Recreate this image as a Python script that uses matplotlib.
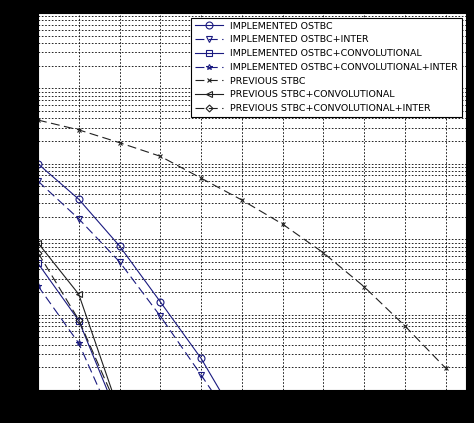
import numpy as np
import matplotlib
matplotlib.use("Agg")
import matplotlib.pyplot as plt

x = list(range(0, 11))
labels = ["IMPLEMENTED OSTBC", "IMPLEMENTED OSTBC+INTER", "IMPLEMENTED OSTBC+CONVOLUTIONAL",
          "IMPLEMENTED OSTBC+CONVOLUTIONAL+INTER", "PREVIOUS STBC", "PREVIOUS STBC+CONVOLUTIONAL",
          "PREVIOUS STBC+CONVOLUTIONAL+INTER"]
ostbc = [-2.00, -2.47, -3.09, -3.83, -4.58, -5.5]
ostbc_int = [-2.23, -2.73, -3.30, -4.02, -4.80, -5.6]
ostbc_conv = [-3.32, -4.08, -5.4]
ostbc_conv_int = [-3.62, -4.38, -5.6]
prev = [-1.42, -1.55, -1.72, -1.90, -2.19, -2.48, -2.80, -3.18, -3.63, -4.15, -4.71]
prev_conv = [-3.05, -3.73, -5.3]
prev_conv_int = [-3.18, -4.07, -5.3]

series = [ostbc, ostbc_int, ostbc_conv, ostbc_conv_int, prev, prev_conv, prev_conv_int]
navy = "#1a1a80"
styles = [(navy, "-", "o", 5), (navy, (0, (8, 4)), "v", 5), (navy, "-", "s", 5), (navy, (0, (8, 4)), "*", 4),
          ("#202020", (0, (8, 4)), "x", 3), ("#202020", "-", "<", 5), ("#202020", (0, (8, 4)), "D", 3.5)]

fig = plt.figure(figsize=(4.74, 4.23), dpi=100, facecolor="black")
ax = fig.add_axes([38/474, 1-390/423, 428/474, 377/423])
ax.set_facecolor("white")
for s, lab, (c, ls, m, ms) in zip(series, labels, styles):
    ax.semilogy(x[:len(s)], 10.0**np.array(s), color=c, linestyle=ls, marker=m,
                markersize=ms, markerfacecolor="none", markeredgecolor=c,
                linewidth=0.8, markeredgewidth=0.8, label=lab)
ax.set_xlim(0, 10.5)
ax.set_ylim(1e-5, 1)
ax.set_xticks(x)
ax.grid(True, which="major", color="black", linestyle=(0, (2, 2)), linewidth=0.6)
ax.grid(True, which="minor", axis="y", color="black", linestyle=(0, (2, 2)), linewidth=0.6)
ax.tick_params(colors="black", labelcolor="black", labelsize=7)
leg = ax.legend(loc="upper right", fontsize=6.8, fancybox=False, framealpha=1, edgecolor="black",
                handlelength=3, borderpad=0.4, labelspacing=0.5, borderaxespad=0,
                bbox_to_anchor=((462-38)/428, (390-18)/377))
leg.get_frame().set_linewidth(0.8)
fig.savefig("out.png", dpi=100, facecolor="black")
